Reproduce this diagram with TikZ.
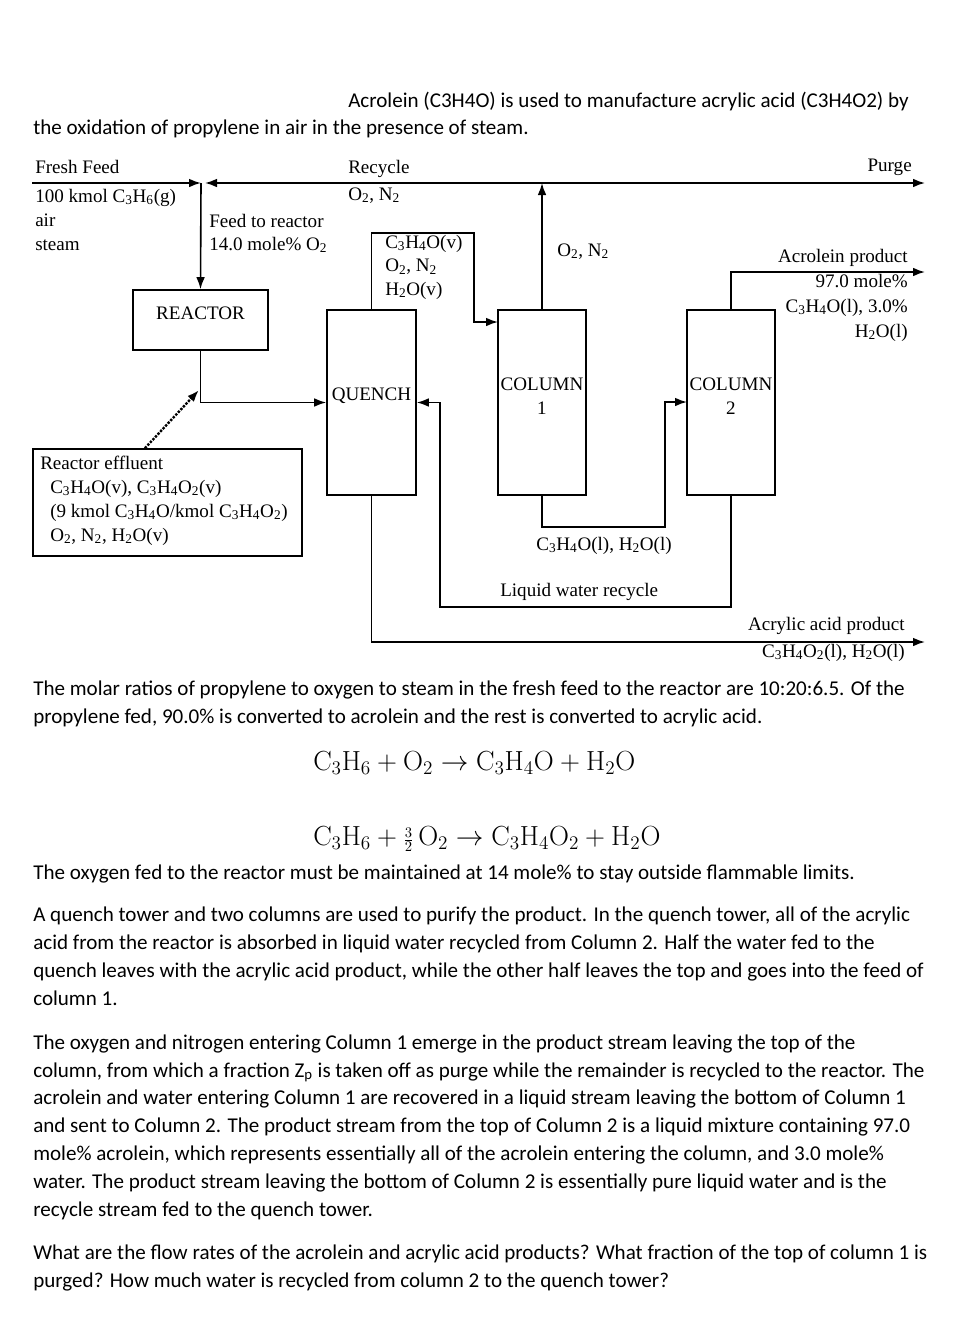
\documentclass[tikz,border=0pt]{standalone}
\usepackage[no-math]{fontspec}
\setmainfont{Liberation Serif}
\newfontfamily\bodyfont{Carlito}
\usepackage{tikz}
\usetikzlibrary{positioning, fit, arrows.meta}
\newcommand{\sbs}[1]{\textsubscript{#1}}

\begin{document}
\begin{tikzpicture}[x=0.75pt, y=-0.75pt,
  unit/.style={rectangle, draw, line width=1.2pt, inner sep=0pt, font=\fontsize{14.3}{18}\selectfont, align=center},
  lbl/.style={font=\fontsize{14.3}{18}\selectfont, inner sep=0pt},
  para/.style={font=\bodyfont\fontsize{15.8}{20.85}\selectfont, align=left, inner sep=0pt, anchor=base west},
  rxn/.style={font=\fontsize{21.5}{24}\selectfont, inner sep=0pt, anchor=base west},
  arr/.style={-{Latex[length=9pt, width=6.5pt]}, line width=1.2pt},
  dotarr/.style={-{Latex[length=9pt, width=6.5pt]}, line width=1.8pt, densely dotted}
]
\useasboundingbox (0,0) rectangle (959,1328);

% problem statement
\node[para] (intro) at (348,107) {Acrolein (C3H4O) is used to manufacture acrylic acid (C3H4O2) by};
\node[para] (intro2) at (33,134) {the oxidation of propylene in air in the presence of steam.};

% process units
\node[unit, fit={(133,290) (268,350)}] (reactor) {REACTOR};
\node[unit, fit={(327,310) (416,495)}] (quench) {QUENCH};
\node[unit, fit={(498,310) (586,495)}] (col1) {COLUMN\\1};
\node[unit, fit={(687,310) (775,495)}] (col2) {COLUMN\\2};
\node[unit, fit={(33,449) (302,556)}] (effbox) {};

% stream points
\coordinate (ffin) at (32,183);
\coordinate (mix) at (201,183);
\coordinate (split) at (542,183);
\coordinate (purge) at (925,183);
\coordinate (effpt) at (199,390);
\coordinate (qbend) at (474,233);
\coordinate (c1in) at (498,322);
\coordinate (c1bend) at (665,527);
\coordinate (c2in) at (687,402);
\coordinate (c2bend) at (440,607);
\coordinate (acrout) at (925,272);
\coordinate (acidout) at (925,642);

% streams
\draw[arr] (ffin) -- (mix);
\draw[arr, shorten >=3pt] (split) -- (mix);
\draw[arr] (split) -- (purge);
\draw[arr] (mix) -- (reactor.north);
\draw[arr] (reactor.south) |- (quench.west);
\draw[dotarr] ([xshift=-16.9pt]effbox.north) -- (effpt);
\draw[arr] (quench.north) |- (qbend) |- (c1in);
\draw[arr] (col1.north) -- (split);
\draw[arr] (col1.south) |- (c1bend) |- (c2in);
\draw[arr] (col2.north) |- (acrout);
\draw[arr] (col2.south) |- (c2bend) |- (quench.east);
\draw[arr] (quench.south) |- (acidout);

% stream labels (multi-line nodes sit on their last baseline)
\node[lbl, anchor=base west] (fftxt) at (35,173) {Fresh Feed};
\node[lbl, anchor=base west, align=left] (ffcomp) at (35,250) {100 kmol C\sbs{3}H\sbs{6}(g)\\air\\steam};
\node[lbl, anchor=base west] (rectxt) at (348,173) {Recycle};
\node[lbl, anchor=base west] (reccomp) at (348,200) {O\sbs{2}, N\sbs{2}};
\node[lbl, anchor=base east] (purgetxt) at (912,171) {Purge};
\node[lbl, anchor=base west, align=left, font=\fontsize{14.3}{17}\selectfont] (feedtxt) at (209,250) {Feed to reactor\\14.0 mole\% O\sbs{2}};
\node[lbl, anchor=base west, align=left, font=\fontsize{14.3}{17.6}\selectfont] (qtoptxt) at (385,295) {C\sbs{3}H\sbs{4}O(v)\\O\sbs{2}, N\sbs{2}\\H\sbs{2}O(v)};
\node[lbl, anchor=base west] (c1toptxt) at (557,256) {O\sbs{2}, N\sbs{2}};
\node[lbl, anchor=base east, align=right, font=\fontsize{14.3}{18.75}\selectfont] (acrtxt) at (908,337) {Acrolein product\\97.0 mole\%\\C\sbs{3}H\sbs{4}O(l), 3.0\%\\H\sbs{2}O(l)};
\node[lbl, anchor=base west, align=left] (efftxt) at (40,541) {Reactor effluent\\
  \hspace*{7.5pt}C\sbs{3}H\sbs{4}O(v), C\sbs{3}H\sbs{4}O\sbs{2}(v)\\
  \hspace*{7.5pt}(9 kmol C\sbs{3}H\sbs{4}O/kmol C\sbs{3}H\sbs{4}O\sbs{2})\\
  \hspace*{7.5pt}O\sbs{2}, N\sbs{2}, H\sbs{2}O(v)};
\node[lbl, anchor=base] (c1bottxt) at (604,550) {C\sbs{3}H\sbs{4}O(l), H\sbs{2}O(l)};
\node[lbl, anchor=base west] (wrectxt) at (500,596) {Liquid water recycle};
\node[lbl, anchor=base east] (acidtxt) at (905,630) {Acrylic acid product};
\node[lbl, anchor=base east] (acidcomp) at (905,657) {C\sbs{3}H\sbs{4}O\sbs{2}(l), H\sbs{2}O(l)};

% text below the flowchart
\node[para] (ratios) at (33,723) {The molar ratios of propylene to oxygen to steam in the fresh feed to the reactor are 10:20:6.5. Of the\\
propylene fed, 90.0\% is converted to acrolein and the rest is converted to acrylic acid.};
\node[rxn] (rxn1) at (313,770) {$\mathrm{C_3H_6} + \mathrm{O_2} \rightarrow \mathrm{C_3H_4O} + \mathrm{H_2O}$};
\node[rxn] (rxn2) at (313,845) {$\mathrm{C_3H_6} + {\scriptstyle\frac{3}{2}}\,\mathrm{O_2} \rightarrow \mathrm{C_3H_4O_2} + \mathrm{H_2O}$};
\node[para] (limits) at (33,879) {The oxygen fed to the reactor must be maintained at 14 mole\% to stay outside flammable limits.};
\node[para] (quenchpar) at (33,1005) {A quench tower and two columns are used to purify the product. In the quench tower, all of the acrylic\\
acid from the reactor is absorbed in liquid water recycled from Column 2. Half the water fed to the\\
quench leaves with the acrylic acid product, while the other half leaves the top and goes into the feed of\\
column 1.};
\node[para] (colpar) at (33,1216) {The oxygen and nitrogen entering Column 1 emerge in the product stream leaving the top of the\\
column, from which a fraction Z\textsubscript{p} is taken off as purge while the remainder is recycled to the reactor. The\\
acrolein and water entering Column 1 are recovered in a liquid stream leaving the bottom of Column 1\\
and sent to Column 2. The product stream from the top of Column 2 is a liquid mixture containing 97.0\\
mole\% acrolein, which represents essentially all of the acrolein entering the column, and 3.0 mole\%\\
water. The product stream leaving the bottom of Column 2 is essentially pure liquid water and is the\\
recycle stream fed to the quench tower.};
\node[para] (questions) at (33,1287) {What are the flow rates of the acrolein and acrylic acid products? What fraction of the top of column 1 is\\
purged? How much water is recycled from column 2 to the quench tower?};
\end{tikzpicture}
\end{document}
